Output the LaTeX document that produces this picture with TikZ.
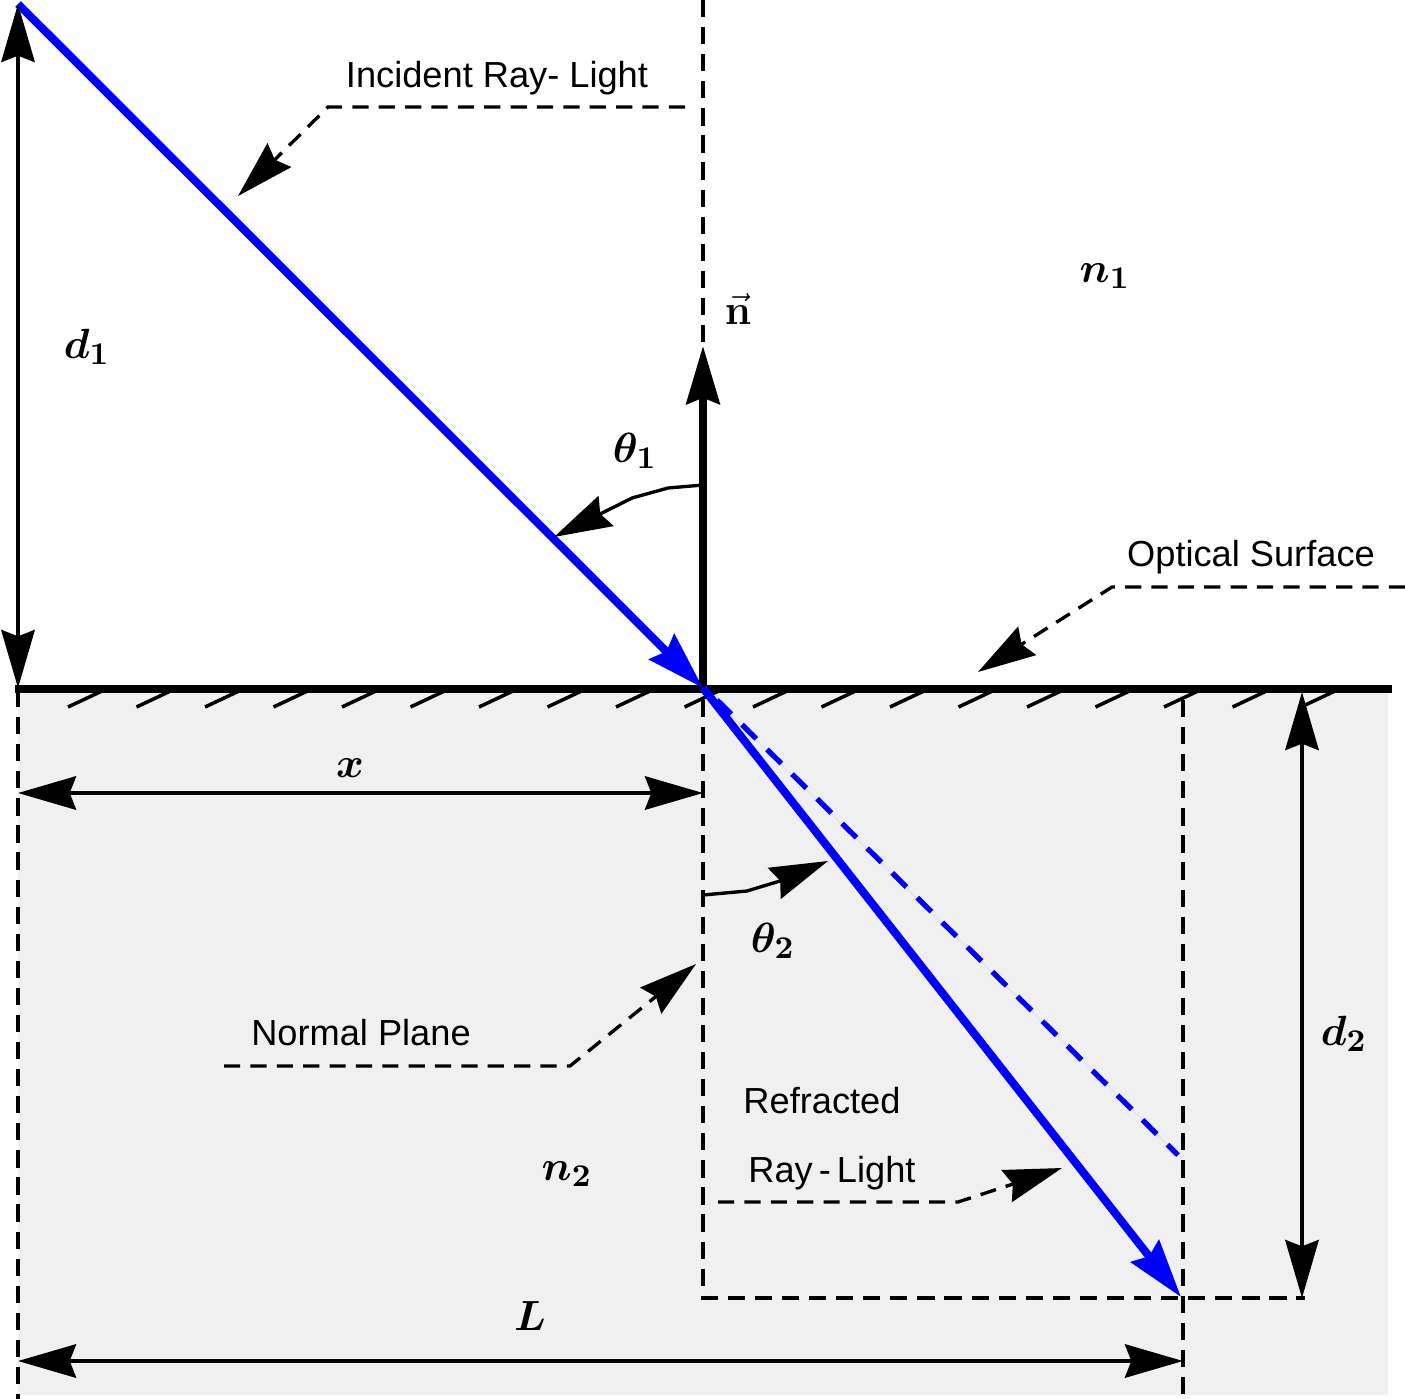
\documentclass[tikz,border=0pt]{standalone}
\usepackage{amsmath}
\usepackage[no-math]{fontspec}
\setmainfont{Liberation Sans}
\usetikzlibrary{arrows.meta,positioning,calc}
\definecolor{medium}{HTML}{F0F0F0}
\begin{document}
\begin{tikzpicture}
[x=.01cm,y=-.01cm,
mylabel/.style={font=\fontsize{10.3}{12}\selectfont,inner sep=0pt},
mymath/.style={font=\fontsize{12.5}{14}\selectfont,inner sep=0pt},
myedge/.style={line width=1.1pt,{Stealth[length=16.5pt,width=9.5pt,inset=1.8pt]}-{Stealth[length=16.5pt,width=9.5pt,inset=1.8pt]}},
myangle/.style={line width=.95pt,-{Stealth[length=16.5pt,width=9.5pt,inset=1.8pt]}},
leader/.style={line width=.95pt,dash pattern=on 4.6pt off 2.9pt,-{Stealth[length=16.5pt,width=9.5pt,inset=1.8pt]}},
guide/.style={line width=1.1pt,dash pattern=on 4.9pt off 2.8pt},
ray/.style={blue,line width=2.3pt,-{Stealth[length=16.5pt,width=10pt,inset=1.8pt]}},
surface/.style={line width=2.1pt},
hatch/.style={line width=1pt}]
\useasboundingbox (0,0) rectangle (1405,1399);
%%%%%%%%%%
%% media
\fill[medium] (18,690) rectangle (1388,1395);
%% points
\coordinate (src) at (18,4);
\coordinate (hit) at (703,688);
\coordinate (foot) at (18,688);
\coordinate (normtop) at (703,0);
\coordinate (normend) at (703,346);
\coordinate (normlow) at (703,700);
\coordinate (corner) at (703,1298);
\coordinate (land) at (1181,1297);
\coordinate (straight) at (1178,1155);
\coordinate (depth) at (1305,1298);
\coordinate (surfl) at (15,689);
\coordinate (surfr) at (1392,689);
\coordinate (ltop) at (18,690);
\coordinate (lbot) at (18,1399);
\coordinate (rtop) at (1183,700);
\coordinate (rbot) at (1183,1399);
%% hatching
\foreach \i in {0,...,18}
\draw[hatch] ({68+68.5*\i},707) -- ({102+68.5*\i},691);
%% dashed guides
\draw[guide] (normtop) -- (normend);
\draw[guide] (normlow) -- (corner) -- (depth);
\draw[guide] (ltop) -- (lbot);
\draw[guide] (rtop) -- (rbot);
%% surface and normal
\draw[line width=2.1pt,-{Stealth[length=16.5pt,width=9.5pt,inset=1.8pt]}] (hit) -- (normend);
\draw[surface] (surfl) -- (surfr);
%% rays
\draw[blue!12,line width=.3pt] (hit) -- (straight);
\draw[blue,line width=1.5pt,dash pattern=on 5.7pt off 4.3pt] ($(hit)+(14,12)$) -- (straight);
\draw[ray] (src) -- (hit);
\draw[ray] (hit) -- (land);
%% dimensions
\draw[myedge] (src) -- (foot);
\coordinate (xl) at (18,793);
\coordinate (xr) at (703,793);
\draw[myedge] (xl) -- (xr);
\coordinate (dt) at (1302,692);
\coordinate (db) at (1302,1298);
\draw[myedge] (dt) -- (db);
\coordinate (ll) at (18,1361);
\coordinate (lr) at (1183,1361);
\draw[myedge] (ll) -- (lr);
%% angles
\coordinate (ta) at (703,485);
\coordinate (tb) at (668,488);
\coordinate (tc) at (632,498);
\coordinate (td) at (554,537);
\draw[myangle] (ta) -- (tb) -- (tc) -- (td);
\coordinate (ua) at (703,895);
\coordinate (ub) at (747,891);
\coordinate (uc) at (780,881);
\coordinate (ud) at (828,861);
\draw[myangle] (ua) -- (ub) -- (uc) -- (ud);
%% labels
\node (incident) [mylabel] at (497,78) {Incident Ray- Light};
\node (optical) [mylabel] at (1251,557) {Optical Surface};
\node (normal) [mylabel] at (361,1033) {Normal Plane};
\node (refracted) [mylabel] at (822,1101) {Refracted};
\node (raylight) [mylabel] at (832,1173) {Ray\,-\,Light};
\node (n1) [mymath] at (1105,276) {$\boldsymbol{n_1}$};
\node (n2) [mymath] at (567,1174) {$\boldsymbol{n_2}$};
\node (d1) [mymath] at (87,347) {$\boldsymbol{d_1}$};
\node (d2) [mymath] at (1344,1034) {$\boldsymbol{d_2}$};
\node (t1) [mymath] at (635,451) {$\boldsymbol{\theta_1}$};
\node (t2) [mymath] at (773,941) {$\boldsymbol{\theta_2}$};
\node (nv) [mymath] at (738,309) {$\vec{\mathbf{n}}$};
\node (xn) [mymath] at (350,768) {$\boldsymbol{x}$};
\node (ln) [mymath] at (530,1316) {$\boldsymbol{L}$};
%% leaders
\coordinate (ia) at (685,107);
\coordinate (ib) at (328,107);
\coordinate (ic) at (238,196);
\draw[leader] (ia) -- (ib) -- (ic);
\coordinate (oa) at (1405,587);
\coordinate (ob) at (1112,587);
\coordinate (oc) at (978,672);
\draw[leader] (oa) -- (ob) -- (oc);
\coordinate (pa) at (224,1066);
\coordinate (pb) at (570,1066);
\coordinate (pc) at (696,964);
\draw[leader] (pa) -- (pb) -- (pc);
\coordinate (ra) at (718,1202);
\coordinate (rb) at (958,1202);
\coordinate (rc) at (1062,1168);
\draw[leader] (ra) -- (rb) -- (rc);
\end{tikzpicture}
\end{document}
